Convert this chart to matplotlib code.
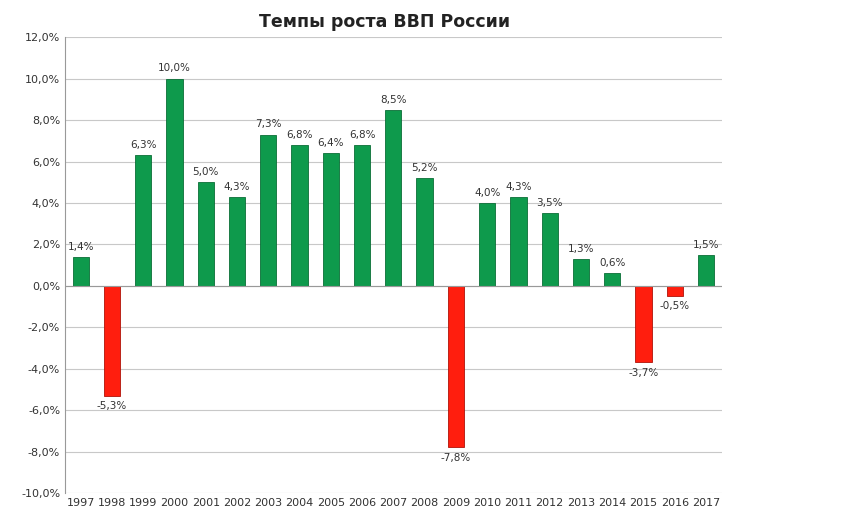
import matplotlib
matplotlib.use("Agg")
import matplotlib.pyplot as plt
from matplotlib.ticker import FuncFormatter

years = [str(y) for y in range(1997, 2018)]
growth = [1.4, -5.3, 6.3, 10.0, 5.0, 4.3, 7.3, 6.8, 6.4, 6.8, 8.5, 5.2,
          -7.8, 4.0, 4.3, 3.5, 1.3, 0.6, -3.7, -0.5, 1.5]

fig = plt.figure(figsize=(8.49, 5.32), dpi=100)
ax = fig.add_axes([0.0766, 0.0733, 0.7734, 0.8567])
x = range(len(years))
colors = ["#0e9a4c" if v >= 0 else "#ff1e0e" for v in growth]
edges = ["#0a6e36" if v >= 0 else "#b01208" for v in growth]
ax.bar(x, growth, width=0.52, color=colors, edgecolor=edges, linewidth=0.6, zorder=3)
for i, v in enumerate(growth):
    lab = f"{v:.1f}%".replace(".", ",")
    if v >= 0:
        ax.text(i, v + 0.25, lab, ha="center", va="bottom", fontsize=7.5, color="#333333")
    else:
        ax.text(i, v - 0.25, lab, ha="center", va="top", fontsize=7.5, color="#333333")
ax.set_ylim(-10, 12)
ax.set_yticks(range(-10, 13, 2))
ax.yaxis.set_major_formatter(FuncFormatter(lambda v, p: f"{v:.1f}%".replace(".", ",")))
ax.set_xlim(-0.5, len(years) - 0.5)
ax.set_xticks(list(x))
ax.set_xticklabels(years)
ax.tick_params(labelsize=8, colors="#333333", length=0)
ax.grid(axis="y", color="#c8c8c8", linewidth=0.8, zorder=0)
for s in ["top", "right", "bottom"]:
    ax.spines[s].set_visible(False)
ax.spines["left"].set_color("#999999")
ax.axhline(0, color="#999999", linewidth=0.8, zorder=4)
ax.xaxis.set_ticks_position("bottom")
fig.text(0.4535, 0.975, "Темпы роста ВВП России", ha="center", va="top",
         fontsize=12.5, fontweight="bold", color="#222222")
fig.savefig("out.png", dpi=100)
